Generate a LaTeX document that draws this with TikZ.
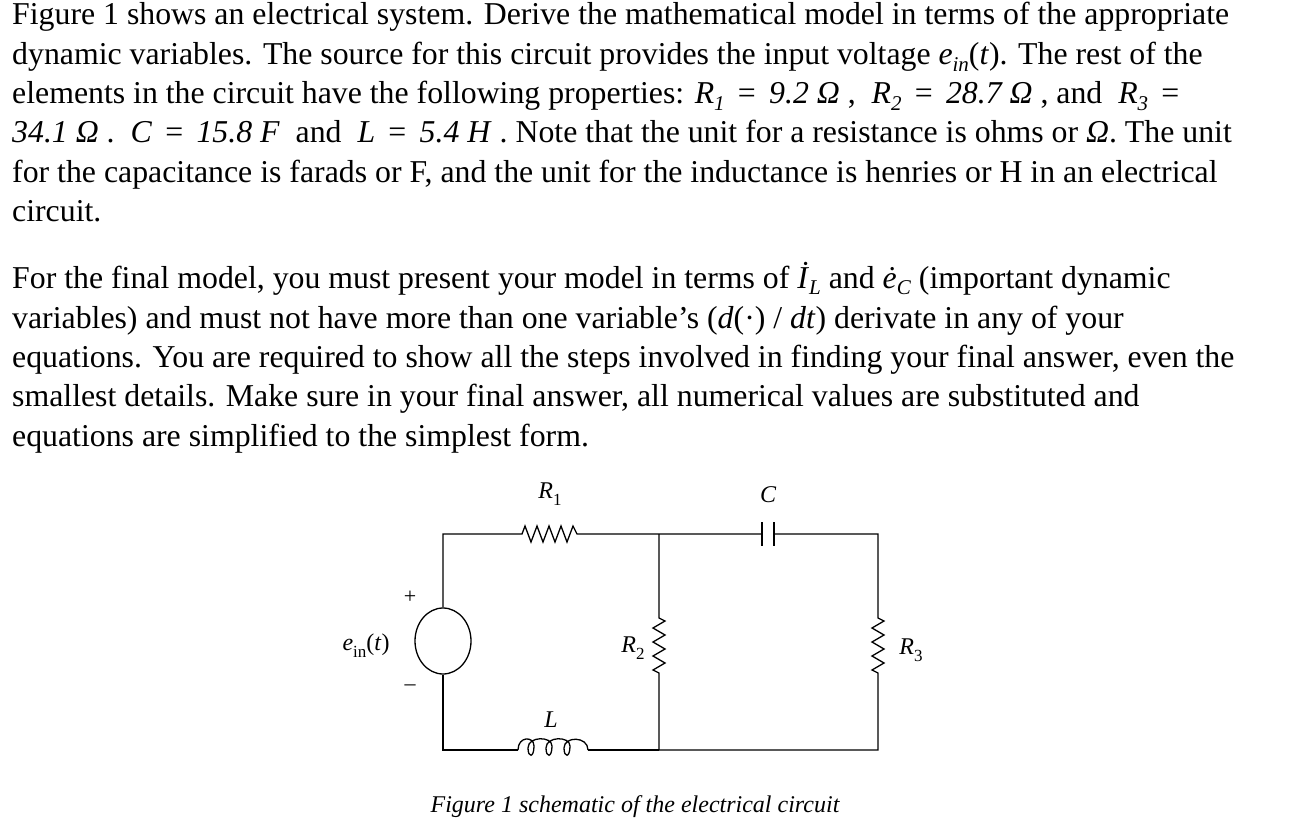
\documentclass[tikz,border=0pt]{standalone}
\usepackage{fontspec}
\setmainfont{Liberation Serif}
\usetikzlibrary{shapes.geometric}
\newcommand{\sbx}[1]{\raisebox{-0.22em}{\fontsize{21}{21}\selectfont #1}}
\newcommand{\lsub}[1]{\raisebox{-0.3em}{\fontsize{17}{17}\selectfont\upshape #1}}
\newcommand{\eq}{\ \,=\ \,}
\begin{document}
\begin{tikzpicture}[x=1pt,y=-1pt,
  txt/.style={anchor=base west,inner sep=0pt,font=\fontsize{31.8}{40}\selectfont},
  lbl/.style={inner sep=0pt,font=\fontsize{24}{24}\selectfont\itshape},
  wire/.style={line width=1.3pt}]
\useasboundingbox[fill=white] (0,0) rectangle (1301,829);
\node[txt] (l1) at (12,25) {Figure 1 shows an electrical system. Derive the mathematical model in terms of the appropriate};
\node[txt] (l2) at (12,65) {dynamic variables. The source for this circuit provides the input voltage \textit{e}\sbx{\textit{in}}(\textit{t}). The rest of the};
\node[txt] (l3) at (12,104) {elements in the circuit have the following properties: \textit{R}\sbx{\textit{1}}\eq\textit{9.2 Ω} ,\ \ \textit{R}\sbx{\textit{2}}\eq\textit{28.7 Ω} , and\ \ \textit{R}\sbx{\textit{3}}\eq};
\node[txt] (l4) at (12,143) {\textit{34.1 Ω} .\ \ \textit{C}\eq\textit{15.8 F}\ \ and\ \ \textit{L}\eq\textit{5.4 H} . Note that the unit for a resistance is ohms or \textit{Ω}. The unit};
\node[txt] (l5) at (12,183) {for the capacitance is farads or F, and the unit for the inductance is henries or H in an electrical};
\node[txt] (l6) at (12,222) {circuit.};
\node[txt] (p1) at (12,288) {For the final model, you must present your model in terms of \textit{\.{I}}\sbx{\textit{L}} and \textit{\.{e}}\sbx{\textit{C}} (important dynamic};
\node[txt] (p2) at (12,328) {variables) and must not have more than one variable’s (\textit{d}(·) / \textit{dt}) derivate in any of your};
\node[txt] (p3) at (12,367) {equations. You are required to show all the steps involved in finding your final answer, even the};
\node[txt] (p4) at (12,406) {smallest details. Make sure in your final answer, all numerical values are substituted and};
\node[txt] (p5) at (12,446) {equations are simplified to the simplest form.};
% circuit
\coordinate (tl) at (443,534); \coordinate (tm) at (659,534); \coordinate (tr) at (878,534);
\coordinate (bl) at (443,750); \coordinate (bm) at (659,750); \coordinate (br) at (878,750);
\node[draw,wire,ellipse,minimum width=56pt,minimum height=66pt,inner sep=0pt] (src) at (443,641) {};
\draw[wire] (src.north) -- (tl) -- (522,534)
  -- (525,526) -- (531,542) -- (537,526) -- (543,542) -- (549,526) -- (555,542) -- (561,526) -- (567,542) -- (573,526) -- (577,534)
  -- (tm) -- (762,534);
\draw[wire] (762,522) -- (762,546) (774,522) -- (774,546);
\draw[wire] (774,534) -- (tr) -- (878,618)
  -- (884,621) -- (872,628) -- (884,635) -- (872,642) -- (884,649) -- (872,656) -- (884,663) -- (872,670) -- (878,673) -- (br) -- (bm);
\draw[wire] (tm) -- (659,618)
  -- (665,621) -- (653,628) -- (665,635) -- (653,642) -- (665,649) -- (653,656) -- (665,663) -- (653,670) -- (659,673) -- (bm);
\draw[wire] (bm) -- (588,750);
\draw[wire] (src.south) -- (bl) -- (518,750);
\draw[wire] (518,750) .. controls (518,736) and (534,736) .. (534,746) .. controls (534,758) and (528,758) .. (528,748)
  .. controls (528,736) and (552,736) .. (552,746) .. controls (552,758) and (546,758) .. (546,748)
  .. controls (546,736) and (570,736) .. (570,746) .. controls (570,758) and (564,758) .. (564,748)
  .. controls (564,736) and (588,736) .. (588,750);
\node[lbl] (lr1) at (550,494) {R\lsub{1}};
\node[lbl] (lc) at (768,495) {C};
\node[lbl] (lein) at (366,646) {e\lsub{in}\upshape(\textit{t})};
\node[lbl,font=\fontsize{22}{22}\selectfont] (plus) at (410,597) {+};
\node[lbl,font=\fontsize{22}{22}\selectfont] (minus) at (410,688) {–};
\node[lbl] (lr2) at (633,648) {R\lsub{2}};
\node[lbl] (lr3) at (911,650) {R\lsub{3}};
\node[lbl] (ll) at (551,720) {L};
\node[lbl,anchor=base] (cap) at (635,812) {Figure 1 schematic of the electrical circuit};
\end{tikzpicture}
\end{document}
